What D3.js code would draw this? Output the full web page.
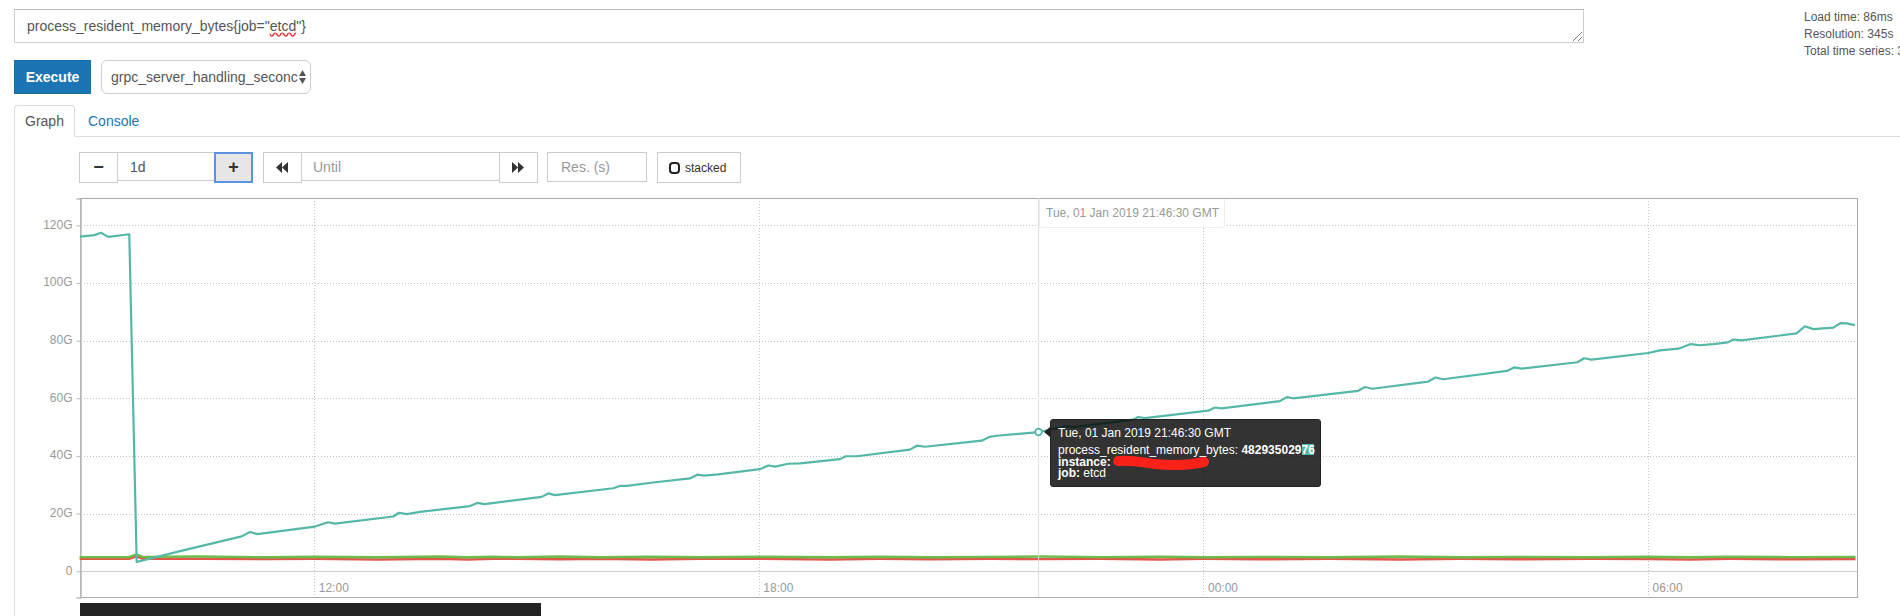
<!DOCTYPE html>
<html>
<head>
<meta charset="utf-8">
<title>process_resident_memory_bytes</title>
<script src="https://cdn.jsdelivr.net/npm/d3@7/dist/d3.min.js"></script>
<style>
  html, body { margin: 0; padding: 0; background: #fff; }
  body { width: 1900px; height: 616px; overflow: hidden; position: relative;
         font-family: "Liberation Sans", Arial, sans-serif; color: #555; }
  .box { position: absolute; box-sizing: border-box; background: #fff; border: 1px solid #ccc;
         white-space: nowrap; overflow: hidden; font-size: 14px; }
  .mid { display: flex; align-items: center; }
  .btn { justify-content: center; color: #333; font-weight: bold; }
  .hold { color: #999; }
  #chart { position: absolute; left: 0; top: 0; }
  #tooltip { position: absolute; left: 1050px; top: 419px; width: 271px; height: 68px; box-sizing: border-box;
             background: rgba(0,0,0,0.8); border: 1px solid #222; border-radius: 3px; color: #fff;
             font-size: 12px; line-height: 12px; }
  #tooltip div { position: absolute; left: 7px; white-space: nowrap; }
  #hoverDate { position: absolute; left: 1039px; top: 199px; width: 186px; height: 29px; box-sizing: border-box;
               background: rgba(255,255,255,0.9); border: 1px solid #eee; border-top: 0; border-radius: 0 0 3px 3px;
               color: #999; font-size: 12px; line-height: 28px; padding-left: 6px; white-space: nowrap; }
</style>
</head>
<body>
<svg id="chart" width="1900" height="616"></svg>

<div class="box" id="query" style="left:14px;top:9px;width:1570px;height:34px;padding:7px 12px;line-height:18px;border-top-color:#bbb;">process_resident_memory_bytes{job="<span style="text-decoration:underline wavy #e33;">etcd</span>"}</div>
<svg style="position:absolute;left:1572px;top:31px;" width="11" height="11"><path d="M1,10L10,1M6,10L10,6" stroke="#777" fill="none"/></svg>

<div class="box mid btn" style="left:14px;top:60px;width:77px;height:34px;background:#1b75b5;border-color:#1b6da8;color:#fff;">Execute</div>
<div class="box mid" style="left:101px;top:60px;width:210px;height:34px;border-radius:6px;padding-left:9px;">grpc_server_handling_seconc</div>
<svg style="position:absolute;left:298px;top:70px;" width="9" height="14"><path d="M4.5,0L8,6H1ZM1,8H8L4.5,14Z" fill="#555"/></svg>

<div class="box mid" style="left:14px;top:105px;width:61px;height:32px;border-color:#ddd;border-bottom-color:#fff;border-radius:4px 4px 0 0;justify-content:center;z-index:2;">Graph</div>
<div style="position:absolute;left:88px;top:113px;font-size:14px;line-height:16px;color:#1b75b5;">Console</div>
<div style="position:absolute;left:14px;top:136px;width:1886px;height:1px;background:#ddd;"></div>
<div style="position:absolute;left:14px;top:136px;width:1px;height:480px;background:#ddd;"></div>

<div class="box mid btn" style="left:79px;top:152px;width:39px;height:31px;font-size:18px;">−</div>
<div class="box mid" style="left:117px;top:152px;width:98px;height:29px;padding-left:12px;">1d</div>
<div class="box mid btn" style="left:214px;top:152px;width:39px;height:31px;font-size:18px;background:#e6e6e6;border:2px solid #5a93e0;">+</div>

<div class="box mid" style="left:263px;top:152px;width:39px;height:31px;"></div>
<svg style="position:absolute;left:276px;top:162px;" width="13" height="11"><path d="M6,0V11L0,5.5ZM12,0V11L6,5.5Z" fill="#333"/></svg>
<div class="box mid hold" style="left:301px;top:152px;width:199px;height:29px;padding-left:11px;">Until</div>
<div class="box mid" style="left:499px;top:152px;width:39px;height:31px;"></div>
<svg style="position:absolute;left:512px;top:162px;" width="13" height="11"><path d="M0,0V11L6,5.5ZM6,0V11L12,5.5Z" fill="#333"/></svg>
<div class="box mid hold" style="left:547px;top:152px;width:100px;height:30px;padding-left:13px;">Res. (s)</div>
<div class="box mid" style="left:657px;top:152px;width:84px;height:31px;font-size:12px;color:#333;padding-left:11px;">
  <span style="display:inline-block;box-sizing:border-box;width:11px;height:12px;border:2px solid #222;border-radius:4px;margin-right:5px;"></span>stacked
</div>

<div style="position:absolute;left:1804px;top:9px;font-size:12px;line-height:17px;white-space:nowrap;">Load time: 86ms<br>Resolution: 345s<br>Total time series: 3</div>

<div id="hoverDate">Tue, 01 Jan 2019 21:46:30 GMT</div>
<div id="tooltip">
  <div style="top:7px;">Tue, 01 Jan 2019 21:46:30 GMT</div>
  <div style="top:24px;">process_resident_memory_bytes: <b>48293502976</b></div>
  <div style="top:36px;"><b>instance:</b></div>
  <div style="top:47px;"><b>job:</b> etcd</div>
</div>
<svg id="marks" style="position:absolute;left:0;top:0;pointer-events:none;" width="1900" height="616"></svg>

<div style="position:absolute;left:80px;top:603px;width:461px;height:13px;background:#222;"></div>

<script>
// minutes after 2019-01-01 00:00 UTC, gigabytes
var tealTimes = [530.3, 541.9, 547.3, 553.2, 570.2, 576.2, 611.3, 661.2, 667.9, 673.8, 720.6, 731.3, 736.8, 784, 788.6,
  794.8, 805.6, 846.1, 852, 857.7, 904.1, 909.5, 914.9, 962.1, 967.5, 973, 994.5, 1024.2, 1030.1, 1035.5, 1047.1,
  1080.9, 1087.6, 1093, 1103.8, 1113.3, 1145.7, 1150.5, 1159.2, 1202.3, 1208.3, 1214.5, 1260.4, 1266.6, 1272.5,
  1306.5, 1328.7, 1334.6, 1383.1, 1387.2, 1392.6, 1443.9, 1449.3, 1454.7, 1501.9, 1507.4, 1512.7, 1565.3, 1570.8,
  1576.7, 1622, 1627.8, 1634.2, 1685.8, 1691.4, 1697.7, 1742.9, 1748.2, 1754.3, 1800.2, 1809.6, 1824.5, 1834.7,
  1841.6, 1852.8, 1864.7, 1869, 1875.8, 1920.3, 1927, 1933.8, 1950, 1956, 1960.8, 1967.5];
var tealValues = [116.1, 116.6, 117.4, 116.0, 116.9, 3.2, 7.0, 12.1, 13.6, 12.9, 15.5, 17.0, 16.5, 19.0, 20.3,
  19.8, 20.6, 22.6, 23.7, 23.3, 25.8, 27.0, 26.4, 28.8, 29.6, 29.6, 30.8, 32.2, 33.5, 33.2, 33.6,
  35.4, 36.7, 36.3, 37.3, 37.4, 38.9, 39.9, 39.9, 42.2, 43.6, 43.2, 45.3, 46.6, 47.0,
  48.29, 50.3, 50.0, 52.6, 53.5, 53.1, 55.7, 56.8, 56.5, 59.0, 60.4, 60.0, 62.6, 63.9,
  63.3, 65.8, 67.2, 66.6, 69.5, 70.7, 70.3, 72.5, 73.9, 73.4, 75.7, 76.6, 77.2, 78.8,
  78.4, 78.8, 79.4, 80.4, 80.1, 82.5, 85.0, 84.0, 84.5, 86.1, 86.0, 85.4];

var lowTimes = [530, 570, 576, 581, 627, 684, 720, 771, 822, 844, 865, 884, 919, 951, 992, 1032, 1081, 1138, 1178,
  1219, 1267, 1308, 1356, 1405, 1440, 1486, 1542, 1599, 1648, 1696, 1753, 1800, 1834, 1866, 1915, 1968];
var greenValues = [4.9, 4.9, 5.9, 5.0, 5.1, 4.85, 5.05, 4.85, 5.1, 4.85, 5.05, 4.85, 5.1, 4.85, 5.05, 4.85, 5.05, 4.85, 5.05,
  4.85, 5.0, 5.1, 4.9, 5.05, 4.85, 5.0, 4.85, 5.1, 4.85, 5.0, 4.85, 5.05, 4.85, 5.05, 4.9, 5.0];
var redValues = [4.3, 4.3, 5.2, 4.3, 4.35, 4.25, 4.3, 4.1, 4.3, 4.1, 4.3, 4.35, 4.15, 4.35, 4.1, 4.3, 4.3, 4.1, 4.3,
  4.15, 4.35, 4.2, 4.35, 4.1, 4.3, 4.15, 4.35, 4.1, 4.3, 4.15, 4.35, 4.2, 4.1, 4.3, 4.15, 4.25];

var yTicks = [0, 20, 40, 60, 80, 100, 120];
var xTickTimes = [720, 1080, 1440, 1800];
var hoverTime = 1306.5;
var hoverValue = 48.29;

var TEAL = '#55b8a6';
var GREEN = '#6dbb4a';
var RED = '#e2574a';
var GRID = '#c4c4c4';

var svg = d3.select('#chart');

function toDate(minutes) {
  return new Date(Date.UTC(2019, 0, 1) + minutes * 60000);
}

var x = d3.scaleUtc().domain([toDate(530.3), toDate(1969.6)]).range([80, 1857.5]);
var y = d3.scaleLinear().domain([-9.1, 129.3]).range([597.5, 198.5]);

// Grid first, everything else sits on top of it
svg.selectAll('.ygrid').data(yTicks).enter().append('line')
  .attr('class', 'ygrid')
  .attr('x1', 81).attr('x2', 1857)
  .attr('y1', function(d) { return Math.round(y(d)) + 0.5; })
  .attr('y2', function(d) { return Math.round(y(d)) + 0.5; })
  .attr('stroke', function(d) { return d === 0 ? '#ccc' : GRID; })
  .attr('stroke-width', function(d) { return d === 0 ? 1.2 : 1; })
  .attr('stroke-dasharray', function(d) { return d === 0 ? null : '1,2'; });

svg.selectAll('.xgrid').data(xTickTimes).enter().append('line')
  .attr('class', 'xgrid')
  .attr('x1', function(d) { return Math.round(x(toDate(d))) + 0.5; })
  .attr('x2', function(d) { return Math.round(x(toDate(d))) + 0.5; })
  .attr('y1', 198).attr('y2', 597)
  .attr('stroke', GRID)
  .attr('stroke-dasharray', '1,2');

// Frame
svg.append('rect')
  .attr('x', 80.5).attr('y', 198.5)
  .attr('width', 1777).attr('height', 399)
  .attr('fill', 'none')
  .attr('stroke', '#aaa');

// Axes
var yAxis = d3.axisLeft(y)
  .tickValues(yTicks)
  .tickSize(4)
  .tickPadding(4)
  .tickFormat(function(d) { return d === 0 ? '0' : d + 'G'; });

var yAxisG = svg.append('g').attr('transform', 'translate(80.5,0)').call(yAxis);
yAxisG.select('.domain').attr('stroke', '#bbb').attr('stroke-width', 1.5);
yAxisG.selectAll('.tick line').attr('stroke', '#bbb');
yAxisG.selectAll('text')
  .attr('y', -1)
  .attr('fill', '#999')
  .style('font', '12px "Liberation Sans", Arial, sans-serif');

var xAxis = d3.axisBottom(x)
  .tickValues(xTickTimes.map(toDate))
  .tickSize(0)
  .tickSizeOuter(0)
  .tickFormat(d3.utcFormat('%H:%M'));

var xAxisG = svg.append('g').attr('transform', 'translate(0,580)').call(xAxis);
xAxisG.select('.domain').remove();
xAxisG.selectAll('text')
  .attr('text-anchor', 'start')
  .attr('x', 4)
  .attr('dy', '0.71em')
  .attr('fill', '#999')
  .style('font', '12px "Liberation Sans", Arial, sans-serif');

// Series
function drawSeries(times, values, colour, width) {
  var line = d3.line()
    .x(function(d) { return x(toDate(d[0])); })
    .y(function(d) { return y(d[1]); });

  svg.append('path')
    .datum(d3.zip(times, values))
    .attr('fill', 'none')
    .attr('stroke', colour)
    .attr('stroke-width', width)
    .attr('stroke-linejoin', 'round')
    .attr('d', line);
}

drawSeries(lowTimes, redValues, RED, 2.4);
drawSeries(lowTimes, greenValues, GREEN, 2.4);
drawSeries(tealTimes, tealValues, TEAL, 2.2);

// Hover line, drawn under the popup
svg.append('line')
  .attr('x1', x(toDate(hoverTime))).attr('x2', x(toDate(hoverTime)))
  .attr('y1', 198).attr('y2', 597)
  .attr('stroke', '#ddd');

// Parts that sit on top of the popup
var marks = d3.select('#marks');

marks.append('circle')
  .attr('cx', x(toDate(hoverTime))).attr('cy', y(hoverValue))
  .attr('r', 3.3).attr('fill', '#fff')
  .attr('stroke', TEAL).attr('stroke-width', 1.8);

marks.append('path')
  .attr('d', 'M1050,' + (y(hoverValue) - 5) + 'L1044,' + y(hoverValue) + 'L1050,' + (y(hoverValue) + 5) + 'Z')
  .attr('fill', '#222');

// Selection over the last two digits of the value
d3.select('#tooltip').insert('span', ':first-child')
  .style('position', 'absolute')
  .style('left', '251px').style('top', '24px')
  .style('width', '12px').style('height', '11px')
  .style('background', TEAL);

// Scribble that hides the instance name
marks.append('path')
  .attr('d', 'M1118,461C1135,460 1140,462 1155,464C1175,466 1190,465 1204,462')
  .attr('fill', 'none')
  .attr('stroke', '#fa2119')
  .attr('stroke-width', 10)
  .attr('stroke-linecap', 'round');
</script>
</body>
</html>
